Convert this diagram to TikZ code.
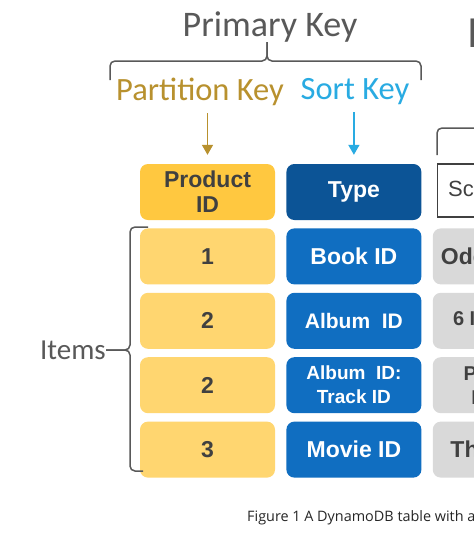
\documentclass[tikz,border=0pt]{standalone}
\usepackage{fontspec}
\setmainfont{Liberation Sans}
\newfontfamily\keyfont{Carlito}
\newfontfamily\capfont{Open Sans}
\usetikzlibrary{arrows.meta, positioning, calc}
\definecolor{cGold}{RGB}{184,145,46}
\definecolor{cCyan}{RGB}{41,171,226}
\definecolor{cHeadYellow}{RGB}{255,200,64}
\definecolor{cRowYellow}{RGB}{255,214,112}
\definecolor{cHeadBlue}{RGB}{12,84,150}
\definecolor{cRowBlue}{RGB}{16,110,193}
\definecolor{cRowGray}{RGB}{217,217,217}
\definecolor{cInk}{RGB}{64,64,64}
\definecolor{cLabel}{RGB}{89,89,89}
\tikzset{
	cell/.style     ={rectangle, rounded corners=8pt, minimum width=135pt, minimum height=56pt, inner sep=0pt, align=center, font=\fontsize{23}{25}\selectfont\bfseries},
	pkhead/.style   ={cell, fill=cHeadYellow, text=cInk},
	pkcell/.style   ={cell, fill=cRowYellow, text=cInk},
	skhead/.style   ={cell, fill=cHeadBlue, text=white},
	skcell/.style   ={cell, fill=cRowBlue, text=white},
	atcell/.style   ={cell, fill=cRowGray, text=cInk},
	small/.style    ={font=\fontsize{20}{24}\selectfont\bfseries},
	athead/.style   ={rectangle, draw=cInk, line width=1.3pt, minimum width=130pt, minimum height=53pt, inner sep=0pt, font=\fontsize{22}{24}\selectfont, text=cInk},
	keylabel/.style ={font=\keyfont\fontsize{32.5}{34}\selectfont, inner sep=0pt},
	keyarrow/.style ={-{Triangle[width=11pt,length=10pt]}, line width=1.6pt},
	bracket/.style  ={draw=cLabel, line width=1.5pt, rounded corners=5pt},
}
\begin{document}
\begin{tikzpicture}[x=1pt, y=-1pt]
	\useasboundingbox (0,0) rectangle (474,542);
	\clip (0,0) rectangle (474,542);
	\fill[white] (0,0) rectangle (474,542);
	% key labels
	\node[keylabel, text=cLabel, font=\keyfont\fontsize{36}{38}\selectfont] (primary) at (270,27) {Primary Key};
	\node[keylabel, text=cGold] (partition) at (200,92) {Partition Key};
	\node[keylabel, text=cCyan] (sort) at (355,92) {Sort Key};
	\node[keylabel, text=cLabel, font=\keyfont\bfseries\fontsize{44}{46}\selectfont, anchor=west] (attrs) at (468,33) {Data};
	% header row
	\node[pkhead] (hdpk) at (207.5,192) {Product\\ID};
	\node[skhead, right=11pt of hdpk] (hdsk) {Type};
	\node[athead, anchor=west] (hdat) at (437,190.5) {Scheduling};
	% item rows
	\node[pkcell, below=8pt of hdpk] (pk1) {1};
	\node[pkcell, below=8pt of pk1] (pk2) {2};
	\node[pkcell, below=8pt of pk2] (pk3) {2};
	\node[pkcell, below=8pt of pk3] (pk4) {3};
	\node[skcell, right=11pt of pk1] (sk1) {Book ID};
	\node[skcell, right=11pt of pk2, font=\fontsize{21}{24}\selectfont\bfseries] (sk2) {Album~ ID};
	\node[skcell, right=11pt of pk3, font=\fontsize{19}{24}\selectfont\bfseries] (sk3) {Album~ ID:\\Track ID};
	\node[skcell, right=11pt of pk4] (sk4) {Movie ID};
	\node[atcell, right=11pt of sk1] (at1) {Odd Hours};
	\node[atcell, right=11pt of sk2, small] (at2) {6 Inspired};
	\node[atcell, right=11pt of sk3, small] (at3) {Prelude\\Inside};
	\node[atcell, right=11pt of sk4] (at4) {The Hunt};
	% arrows from keys to columns
	\draw[keyarrow, cGold] ($(partition.south -| hdpk.north)+(0,7)$) -- ($(hdpk.north)+(0,-9)$);
	\draw[keyarrow, cCyan] ($(sort.south -| hdsk.north)+(0,7)$) -- ($(hdsk.north)+(0,-9)$);
	% brackets
	\draw[bracket] (110,80) |- (267,61) -- (267,42);
	\draw[bracket] (267,42) -- (267,61) -| (421,80);
	\draw[bracket] (437,155) |- (560,128);
	\node[keylabel, text=cLabel, font=\keyfont\fontsize{29}{30}\selectfont, anchor=east] (items) at (106,350) {Items};
	\draw[bracket] (items.east) -- (130,350) |- (148,227);
	\draw[bracket] (items.east) -- (130,350) |- (143,471);
	% caption
	\node[font=\capfont\fontsize{14.4}{16}\selectfont, text=black!85, anchor=west, inner sep=0pt] (caption) at (247,518) {Figure 1 A DynamoDB table with a composite primary key};
\end{tikzpicture}
\end{document}
